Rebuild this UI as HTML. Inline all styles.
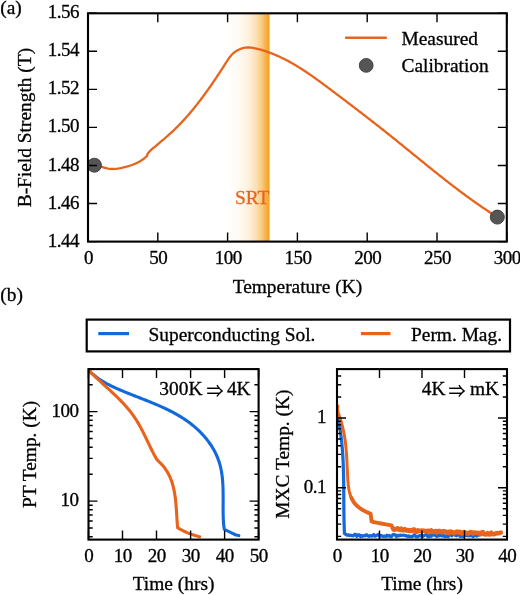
<!DOCTYPE html>
<html><head><meta charset="utf-8"><title>Figure</title>
<style>
html,body{margin:0;padding:0;background:#fff;}
svg{display:block;}
text{font-family:"Liberation Serif", "Times New Roman", serif;stroke:#000;stroke-width:0.3px;}
text.srt{stroke:#E8641C;}
text.cjk{font-family:"Noto Sans CJK JP", sans-serif;stroke-width:0.1px;}
</style></head>
<body>
<svg width="520" height="595" viewBox="0 0 520 595">
<rect width="520" height="595" fill="#fff"/>
<defs><linearGradient id="srt" x1="0" x2="1" y1="0" y2="0"><stop offset="0" stop-color="#F6A01F" stop-opacity="0"/><stop offset="0.28" stop-color="#F6A01F" stop-opacity="0.06"/><stop offset="0.52" stop-color="#F6A01F" stop-opacity="0.17"/><stop offset="0.69" stop-color="#F6A01F" stop-opacity="0.35"/><stop offset="0.81" stop-color="#F6A01F" stop-opacity="0.56"/><stop offset="0.91" stop-color="#F6A01F" stop-opacity="0.82"/><stop offset="1.0" stop-color="#F6A01F" stop-opacity="1.0"/></linearGradient></defs>
<rect x="228.5" y="13.3" width="41.1" height="228.3" fill="url(#srt)"/>
<text x="234.92" y="203.80" text-anchor="start" font-size="19.4" fill="#E8641C" class="srt">SRT</text>
<path d="M94.00,165.60L95.55,165.61L97.10,165.76L98.65,166.04L100.20,166.41L101.76,166.85L103.32,167.32L104.89,167.79L106.45,168.22L108.01,168.56L109.57,168.79L111.12,168.93L112.68,168.99L114.22,168.96L115.77,168.85L117.31,168.68L118.85,168.45L120.39,168.17L121.93,167.85L123.46,167.49L125.00,167.10L126.53,166.68L128.06,166.24L129.58,165.78L131.09,165.27L132.59,164.73L134.06,164.16L135.52,163.54L136.95,162.88L138.36,162.17L139.74,161.40L141.08,160.59L142.39,159.72L143.66,158.78L144.88,157.79L146.06,156.73L147.20,155.60L147.20,155.60L147.32,154.30L147.93,153.39L148.59,152.54L149.30,151.72L150.06,150.93L150.85,150.17L151.67,149.43L152.51,148.71L153.37,147.99L154.24,147.28L155.11,146.56L155.97,145.84L156.84,145.12L157.71,144.40L158.58,143.67L159.45,142.94L160.32,142.21L161.19,141.48L162.06,140.74L162.93,140.00L163.80,139.25L164.66,138.50L165.52,137.75L166.39,136.99L167.24,136.24L168.10,135.47L168.95,134.71L169.80,133.94L170.65,133.16L171.49,132.39L172.33,131.60L173.17,130.82L174.00,130.03L174.83,129.23L175.65,128.44L176.47,127.63L177.28,126.83L178.08,126.02L178.89,125.20L179.68,124.39L180.48,123.56L181.26,122.74L182.05,121.91L182.83,121.07L183.60,120.24L184.37,119.39L185.14,118.55L185.90,117.70L186.66,116.85L187.41,116.00L188.16,115.14L188.91,114.28L189.65,113.41L190.38,112.54L191.12,111.67L191.85,110.80L192.57,109.92L193.30,109.04L194.02,108.16L194.73,107.28L195.44,106.39L196.15,105.50L196.86,104.60L197.56,103.71L198.26,102.81L198.95,101.91L199.65,101.01L200.34,100.10L201.02,99.19L201.71,98.28L202.39,97.37L203.07,96.46L203.74,95.54L204.41,94.63L205.09,93.71L205.75,92.79L206.42,91.86L207.08,90.94L207.74,90.01L208.40,89.08L209.06,88.15L209.71,87.22L210.36,86.29L211.01,85.36L211.66,84.42L212.31,83.49L212.95,82.55L213.59,81.61L214.23,80.67L214.87,79.73L215.51,78.78L216.15,77.84L216.78,76.89L217.41,75.94L218.04,74.99L218.67,74.04L219.30,73.08L219.93,72.13L220.56,71.17L221.18,70.21L221.80,69.25L222.43,68.29L223.05,67.32L223.67,66.36L224.29,65.39L224.91,64.42L225.53,63.45L226.14,62.47L226.76,61.50L227.39,60.53L228.02,59.57L228.67,58.62L229.33,57.69L230.02,56.78L230.74,55.90L231.49,55.05L232.27,54.24L233.09,53.47L233.94,52.73L234.82,52.04L235.73,51.39L236.67,50.78L237.64,50.22L238.62,49.71L239.63,49.24L240.66,48.83L241.71,48.47L242.77,48.16L243.85,47.91L244.94,47.71L246.04,47.57L247.14,47.49L248.26,47.47L249.38,47.49L250.51,47.57L251.64,47.68L252.78,47.84L253.92,48.03L255.06,48.26L256.19,48.51L257.33,48.78L258.46,49.07L259.59,49.38L260.71,49.70L261.83,50.02L262.94,50.36L264.05,50.71L265.15,51.07L266.25,51.44L267.34,51.81L268.42,52.20L269.50,52.59L270.58,53.00L271.65,53.41L272.72,53.83L273.78,54.26L274.83,54.70L275.89,55.14L276.93,55.60L277.98,56.06L279.02,56.53L280.05,57.01L281.08,57.49L282.11,57.99L283.13,58.49L284.15,58.99L285.16,59.51L286.18,60.03L287.18,60.56L288.19,61.09L289.19,61.63L290.18,62.18L291.17,62.73L292.16,63.29L293.15,63.85L294.13,64.42L295.11,65.00L296.09,65.58L297.06,66.17L298.03,66.76L299.00,67.36L299.96,67.96L300.93,68.57L301.89,69.18L302.84,69.80L303.80,70.42L304.75,71.04L305.70,71.67L306.65,72.30L307.59,72.94L308.53,73.58L309.47,74.22L310.41,74.87L311.35,75.52L312.28,76.17L313.22,76.83L314.15,77.49L315.08,78.15L316.01,78.82L316.93,79.48L317.86,80.15L318.78,80.82L319.71,81.50L320.63,82.17L321.55,82.85L322.47,83.53L323.39,84.21L324.30,84.89L325.22,85.57L326.14,86.26L327.05,86.94L327.97,87.63L328.88,88.31L329.80,89.00L330.71,89.68L331.62,90.37L332.54,91.06L333.45,91.75L334.36,92.43L335.27,93.12L336.19,93.81L337.10,94.50L338.01,95.18L338.92,95.87L339.83,96.56L340.74,97.25L341.65,97.94L342.56,98.63L343.47,99.32L344.38,100.01L345.29,100.70L346.20,101.39L347.11,102.08L348.01,102.77L348.92,103.46L349.83,104.15L350.74,104.84L351.64,105.53L352.55,106.22L353.46,106.91L354.36,107.61L355.27,108.30L356.17,108.99L357.08,109.69L357.98,110.38L358.89,111.07L359.79,111.77L360.70,112.46L361.60,113.16L362.50,113.85L363.41,114.55L364.31,115.25L365.21,115.94L366.11,116.64L367.01,117.34L367.91,118.04L368.81,118.73L369.71,119.43L370.61,120.13L371.51,120.83L372.41,121.53L373.31,122.23L374.21,122.93L375.11,123.64L376.00,124.34L376.90,125.04L377.80,125.75L378.69,126.45L379.59,127.15L380.48,127.86L381.38,128.56L382.27,129.27L383.17,129.98L384.06,130.68L384.95,131.39L385.85,132.10L386.74,132.81L387.63,133.52L388.52,134.23L389.41,134.94L390.30,135.65L391.19,136.36L392.08,137.08L392.97,137.79L393.86,138.50L394.75,139.22L395.64,139.93L396.53,140.65L397.41,141.37L398.30,142.08L399.19,142.80L400.08,143.52L400.96,144.23L401.85,144.95L402.73,145.67L403.62,146.39L404.50,147.11L405.39,147.83L406.28,148.55L407.16,149.27L408.05,149.99L408.93,150.71L409.81,151.43L410.70,152.15L411.58,152.87L412.47,153.59L413.35,154.31L414.24,155.03L415.12,155.75L416.01,156.47L416.89,157.19L417.78,157.91L418.66,158.63L419.55,159.35L420.43,160.07L421.32,160.79L422.21,161.51L423.09,162.23L423.98,162.95L424.86,163.67L425.75,164.38L426.64,165.10L427.53,165.82L428.41,166.54L429.30,167.25L430.19,167.97L431.08,168.68L431.97,169.40L432.86,170.11L433.75,170.83L434.64,171.54L435.53,172.25L436.42,172.96L437.32,173.67L438.21,174.38L439.10,175.09L440.00,175.80L440.89,176.51L441.79,177.22L442.68,177.92L443.58,178.63L444.48,179.33L445.37,180.04L446.27,180.74L447.17,181.44L448.07,182.14L448.97,182.84L449.87,183.54L450.78,184.24L451.68,184.93L452.59,185.63L453.49,186.32L454.40,187.01L455.30,187.70L456.21,188.39L457.12,189.08L458.03,189.77L458.94,190.46L459.85,191.14L460.77,191.83L461.68,192.51L462.59,193.19L463.51,193.87L464.43,194.54L465.35,195.22L466.27,195.90L467.19,196.57L468.11,197.24L469.03,197.91L469.96,198.58L470.88,199.24L471.81,199.91L472.74,200.57L473.66,201.23L474.60,201.89L475.53,202.55L476.46,203.21L477.40,203.86L478.33,204.51L479.27,205.16L480.21,205.81L481.15,206.46L482.09,207.10L483.03,207.74L483.98,208.38L484.93,209.02L485.87,209.66L486.82,210.29L487.77,210.92L488.73,211.55L489.68,212.18L490.64,212.80L491.59,213.43L492.55,214.05L493.52,214.66L494.48,215.28L495.44,215.89L496.41,216.50L497.30,217.20" fill="none" stroke="#E8641C" stroke-width="2.3" stroke-linejoin="round" stroke-linecap="round"/>
<clipPath id="clipA"><rect x="88.0" y="13.3" width="418.8" height="228.3"/></clipPath>
<circle clip-path="url(#clipA)" cx="94.4" cy="165.2" r="7.0" fill="#555555" stroke="#3c3c3c" stroke-width="0.9"/>
<circle cx="497.3" cy="217.1" r="7.0" fill="#555555" stroke="#3c3c3c" stroke-width="0.9"/>
<text x="84.05" y="263.70" font-size="19.0" letter-spacing="-0.5">0</text>
<text x="149.35" y="263.70" font-size="19.0" letter-spacing="-0.5">50</text>
<text x="214.65" y="263.70" font-size="19.0" letter-spacing="-0.5">100</text>
<text x="284.45" y="263.70" font-size="19.0" letter-spacing="-0.5">150</text>
<text x="354.25" y="263.70" font-size="19.0" letter-spacing="-0.5">200</text>
<text x="424.05" y="263.70" font-size="19.0" letter-spacing="-0.5">250</text>
<text x="493.85" y="263.70" font-size="19.0" letter-spacing="-0.5">300</text>
<text x="47.65" y="246.60" font-size="19.0" letter-spacing="-0.5">1.44</text>
<text x="47.65" y="208.55" font-size="19.0" letter-spacing="-0.5">1.46</text>
<text x="47.65" y="170.50" font-size="19.0" letter-spacing="-0.5">1.48</text>
<text x="47.65" y="132.45" font-size="19.0" letter-spacing="-0.5">1.50</text>
<text x="47.65" y="94.40" font-size="19.0" letter-spacing="-0.5">1.52</text>
<text x="47.65" y="56.35" font-size="19.0" letter-spacing="-0.5">1.54</text>
<text x="47.65" y="18.30" font-size="19.0" letter-spacing="-0.5">1.56</text>
<path d="M88.0,241.6v-9.0M88.0,13.3v9.0M157.8,241.6v-9.0M157.8,13.3v9.0M227.6,241.6v-9.0M227.6,13.3v9.0M297.4,241.6v-9.0M297.4,13.3v9.0M367.2,241.6v-9.0M367.2,13.3v9.0M437.0,241.6v-9.0M437.0,13.3v9.0M506.8,241.6v-9.0M506.8,13.3v9.0M88.0,241.6h9.0M506.8,241.6h-9.0M88.0,203.5h9.0M506.8,203.5h-9.0M88.0,165.5h9.0M506.8,165.5h-9.0M88.0,127.4h9.0M506.8,127.4h-9.0M88.0,89.4h9.0M506.8,89.4h-9.0M88.0,51.3h9.0M506.8,51.3h-9.0M88.0,13.3h9.0M506.8,13.3h-9.0" stroke="#000" stroke-width="1.4" fill="none"/>
<rect x="88.0" y="13.3" width="418.8" height="228.3" fill="none" stroke="#000" stroke-width="2.1"/>
<text x="297.40" y="292.80" text-anchor="middle" font-size="19.4" fill="#000" >Temperature (K)</text>
<text transform="translate(31.3,127.6) rotate(-90)" text-anchor="middle" font-size="19.4">B-Field Strength (T)</text>
<line x1="345.1" y1="37.8" x2="386.8" y2="37.8" stroke="#E8641C" stroke-width="2.4"/>
<text x="401.50" y="44.50" text-anchor="start" font-size="19.4" fill="#000" >Measured</text>
<circle cx="366.2" cy="65.4" r="6.9" fill="#555555" stroke="#3c3c3c" stroke-width="0.9"/>
<text x="401.50" y="72.30" text-anchor="start" font-size="19.4" fill="#000" >Calibration</text>
<text x="0.30" y="13.50" text-anchor="start" font-size="19.4" fill="#000" >(a)</text>
<text x="0.30" y="301.00" text-anchor="start" font-size="19.4" fill="#000" >(b)</text>
<rect x="86.7" y="319.6" width="423.3" height="31.8" fill="none" stroke="#000" stroke-width="2.2"/>
<line x1="98.3" y1="333.6" x2="129" y2="333.6" stroke="#1169DC" stroke-width="3.2"/>
<text x="148.50" y="341.30" text-anchor="start" font-size="19.4" fill="#000" >Superconducting Sol.</text>
<line x1="360.9" y1="333.6" x2="390.5" y2="333.6" stroke="#E8641C" stroke-width="3.2"/>
<text x="411.00" y="341.30" text-anchor="start" font-size="19.4" fill="#000" >Perm. Mag.</text>
<path d="M89.60,370.60L90.43,372.08L91.55,373.11L92.69,374.10L93.84,375.07L95.01,376.00L96.19,376.91L97.39,377.80L98.61,378.65L99.84,379.48L101.08,380.29L102.33,381.08L103.60,381.84L104.88,382.59L106.17,383.31L107.47,384.02L108.78,384.71L110.11,385.38L111.44,386.04L112.78,386.69L114.13,387.32L115.49,387.95L116.85,388.56L118.22,389.16L119.60,389.76L120.99,390.35L122.38,390.93L123.77,391.51L125.17,392.09L126.58,392.66L127.99,393.22L129.40,393.79L130.82,394.35L132.24,394.91L133.66,395.47L135.08,396.03L136.51,396.58L137.94,397.14L139.37,397.70L140.80,398.26L142.22,398.82L143.65,399.38L145.08,399.94L146.51,400.51L147.94,401.08L149.37,401.65L150.79,402.23L152.21,402.81L153.63,403.40L155.05,403.99L156.46,404.59L157.87,405.20L159.28,405.81L160.68,406.43L162.07,407.06L163.46,407.69L164.85,408.34L166.23,408.99L167.60,409.66L168.97,410.33L170.33,411.01L171.68,411.71L173.03,412.42L174.36,413.13L175.69,413.87L177.01,414.61L178.32,415.37L179.62,416.14L180.91,416.92L182.19,417.72L183.46,418.54L184.72,419.37L185.97,420.22L187.20,421.08L188.42,421.96L189.63,422.86L190.83,423.78L192.02,424.71L193.18,425.66L194.34,426.63L195.48,427.61L196.60,428.61L197.71,429.62L198.80,430.65L199.87,431.70L200.92,432.76L201.96,433.84L202.97,434.94L203.97,436.05L204.94,437.17L205.90,438.32L206.83,439.47L207.75,440.64L208.63,441.83L209.50,443.03L210.34,444.25L211.16,445.48L211.96,446.73L212.73,447.98L213.47,449.26L214.19,450.55L214.88,451.85L215.54,453.17L216.17,454.50L216.78,455.84L217.36,457.20L217.91,458.57L218.42,459.95L218.91,461.35L219.37,462.76L219.79,464.18L220.19,465.62L220.55,467.07L220.88,468.53L221.18,470.00L221.45,471.48L221.70,472.98L221.92,474.48L222.12,475.99L222.30,477.50L222.45,479.03L222.59,480.56L222.70,482.10L222.80,483.64L222.88,485.19L222.95,486.74L223.01,488.30L223.05,489.85L223.08,491.41L223.11,492.98L223.12,494.54L223.13,496.10L223.13,497.66L223.13,499.22L223.13,500.78L223.12,502.34L223.11,503.89L223.11,505.44L223.10,506.99L223.10,508.53L223.11,510.06L223.12,511.59L223.14,513.11L223.16,514.63L223.20,516.14L223.25,517.63L223.31,519.12L223.39,520.60L223.48,522.07L223.59,523.52L223.71,524.96L223.86,526.40L224.02,527.81L224.30,529.30L224.30,529.30L231.00,532.60L236.00,535.00L238.80,535.60" fill="none" stroke="#1169DC" stroke-width="3.1" stroke-linejoin="round" stroke-linecap="round"/>
<path d="M89.60,370.60L90.35,371.98L91.42,373.04L92.50,374.11L93.59,375.16L94.69,376.21L95.79,377.26L96.90,378.31L98.01,379.35L99.13,380.38L100.25,381.42L101.37,382.45L102.50,383.48L103.63,384.51L104.76,385.54L105.88,386.57L107.01,387.61L108.14,388.64L109.26,389.67L110.38,390.71L111.50,391.75L112.62,392.79L113.73,393.84L114.83,394.88L115.93,395.94L117.02,397.00L118.10,398.06L119.18,399.14L120.24,400.21L121.30,401.30L122.35,402.39L123.38,403.49L124.40,404.60L125.41,405.72L126.41,406.85L127.40,407.99L128.36,409.14L129.32,410.30L130.26,411.47L131.18,412.65L132.08,413.85L132.97,415.06L133.83,416.28L134.68,417.52L135.51,418.77L136.32,420.04L137.11,421.31L137.89,422.61L138.65,423.91L139.39,425.22L140.12,426.54L140.84,427.87L141.55,429.21L142.25,430.56L142.94,431.92L143.62,433.27L144.30,434.64L144.97,436.01L145.63,437.38L146.30,438.76L146.96,440.13L147.62,441.51L148.28,442.89L148.94,444.27L149.60,445.65L150.27,447.03L150.94,448.40L151.62,449.77L152.30,451.13L152.99,452.49L153.69,453.85L154.41,455.20L155.13,456.54L155.86,457.87L156.61,459.19L157.70,460.30L157.70,460.30L158.66,461.43L159.87,462.55L161.02,463.70L162.12,464.87L163.16,466.06L164.15,467.29L165.08,468.53L165.96,469.80L166.80,471.09L167.58,472.40L168.32,473.72L169.02,475.07L169.67,476.44L170.28,477.82L170.85,479.22L171.38,480.64L171.88,482.07L172.34,483.52L172.76,484.98L173.16,486.45L173.52,487.93L173.86,489.42L174.17,490.93L174.45,492.44L174.71,493.96L174.95,495.49L175.17,497.03L175.37,498.57L175.55,500.11L175.71,501.66L175.86,503.22L176.00,504.77L176.13,506.33L176.25,507.89L176.36,509.45L176.46,511.01L176.56,512.56L176.66,514.12L176.75,515.67L176.84,517.21L176.94,518.76L177.04,520.29L177.14,521.82L177.26,523.34L177.37,524.86L177.50,526.36L177.70,527.90L177.70,527.90C179.43,528.77 184.45,531.62 188.10,533.10C191.75,534.58 197.68,536.18 199.60,536.80" fill="none" stroke="#E8641C" stroke-width="3.1" stroke-linejoin="round" stroke-linecap="round"/>
<text x="84.25" y="562.20" font-size="19.0" letter-spacing="-0.5">0</text>
<text x="113.77" y="562.20" font-size="19.0" letter-spacing="-0.5">10</text>
<text x="147.79" y="562.20" font-size="19.0" letter-spacing="-0.5">20</text>
<text x="181.81" y="562.20" font-size="19.0" letter-spacing="-0.5">30</text>
<text x="215.83" y="562.20" font-size="19.0" letter-spacing="-0.5">40</text>
<text x="249.85" y="562.20" font-size="19.0" letter-spacing="-0.5">50</text>
<text x="51.50" y="416.60" font-size="19.0" letter-spacing="-0.5">100</text>
<text x="60.50" y="506.10" font-size="19.0" letter-spacing="-0.5">10</text>
<path d="M88.5,539.6v-9.0M88.5,369.1v9.0M122.5,539.6v-9.0M122.5,369.1v9.0M156.5,539.6v-9.0M156.5,369.1v9.0M190.6,539.6v-9.0M190.6,369.1v9.0M224.6,539.6v-9.0M224.6,369.1v9.0M258.6,539.6v-9.0M258.6,369.1v9.0M88.5,536.7h4.2M258.6,536.7h-4.2M88.5,528.0h4.2M258.6,528.0h-4.2M88.5,521.0h4.2M258.6,521.0h-4.2M88.5,515.0h4.2M258.6,515.0h-4.2M88.5,509.8h4.2M258.6,509.8h-4.2M88.5,505.2h4.2M258.6,505.2h-4.2M88.5,501.1h9.0M258.6,501.1h-9.0M88.5,474.2h4.2M258.6,474.2h-4.2M88.5,458.4h4.2M258.6,458.4h-4.2M88.5,447.2h4.2M258.6,447.2h-4.2M88.5,438.5h4.2M258.6,438.5h-4.2M88.5,431.5h4.2M258.6,431.5h-4.2M88.5,425.5h4.2M258.6,425.5h-4.2M88.5,420.3h4.2M258.6,420.3h-4.2M88.5,415.7h4.2M258.6,415.7h-4.2M88.5,411.6h9.0M258.6,411.6h-9.0M88.5,384.7h4.2M258.6,384.7h-4.2M88.5,368.9h4.2M258.6,368.9h-4.2" stroke="#000" stroke-width="1.4" fill="none"/>
<rect x="88.5" y="369.1" width="170.1" height="170.5" fill="none" stroke="#000" stroke-width="2.1"/>
<text x="159.33" y="395.00" text-anchor="start" font-size="19.4" fill="#000" >300K</text>
<text x="206.62" y="397.40" font-size="17.0" class="cjk">⇒</text>
<text x="226.91" y="395.00" text-anchor="start" font-size="19.4" fill="#000" >4K</text>
<text x="173.55" y="590.40" text-anchor="middle" font-size="19.4" fill="#000" >Time (hrs)</text>
<text transform="translate(36.3,454.4) rotate(-90)" text-anchor="middle" font-size="19.4">PT Temp. (K)</text>
<path d="M337.60,416.50L337.94,417.98L338.25,419.48L338.55,420.97L338.84,422.47L339.12,423.96L339.39,425.46L339.65,426.96L339.90,428.46L340.13,429.97L340.36,431.47L340.58,432.98L340.79,434.48L340.98,435.99L341.17,437.50L341.35,439.01L341.52,440.52L341.69,442.03L341.84,443.54L341.99,445.05L342.13,446.57L342.26,448.08L342.38,449.60L342.50,451.11L342.60,452.63L342.71,454.15L342.80,455.67L342.89,457.19L342.98,458.71L343.05,460.23L343.13,461.75L343.19,463.27L343.26,464.80L343.31,466.32L343.37,467.84L343.41,469.37L343.46,470.89L343.50,472.42L343.53,473.94L343.57,475.47L343.60,476.99L343.62,478.52L343.65,480.05L343.67,481.57L343.69,483.10L343.70,484.63L343.72,486.15L343.73,487.68L343.74,489.21L343.75,490.74L343.76,492.26L343.77,493.79L343.78,495.32L343.78,496.84L343.79,498.37L343.80,499.90L343.81,501.42L343.82,502.95L343.82,504.48L343.83,506.00L343.85,507.53L343.86,509.05L343.87,510.58L343.89,512.10L343.91,513.63L343.93,515.15L343.96,516.67L343.98,518.19L344.01,519.72L344.05,521.24L344.08,522.76L344.13,524.28L344.17,525.80L344.22,527.32L344.27,528.83L344.33,530.35L344.40,531.87L344.40,533.40L344.40,533.40L347.00,535.30L348.50,534.87L349.70,535.61L350.90,535.19L352.10,535.75L353.30,535.80L354.50,534.46L355.70,534.33L356.90,536.31L358.10,534.92L359.30,534.86L360.50,536.69L361.70,535.43L362.90,536.31L364.10,535.44L365.30,535.83L366.50,534.66L367.70,535.82L368.90,536.38L370.10,535.56L371.30,536.08L372.50,535.91L373.70,534.45L374.90,536.12L376.10,535.72L377.30,535.02L378.50,534.37L379.70,536.38L380.90,535.43L382.10,536.03L383.30,536.41L384.50,536.01L385.70,536.51L386.90,535.25L388.10,536.22L389.30,535.37L390.50,536.55L391.70,536.41L392.90,534.53L394.10,534.63L395.30,534.82L396.50,536.62L397.70,535.35L398.90,535.80L400.10,535.02L401.30,535.52L402.50,535.23L403.70,535.14L404.90,535.70L406.10,535.70L407.30,536.47L408.50,535.94L409.70,536.53L410.90,536.36L412.10,536.68L413.30,535.91L414.50,534.69L415.70,536.37L416.90,536.62L418.10,536.47L419.30,535.67L420.50,536.01L421.70,534.81L422.90,536.30L424.10,535.68L425.30,534.98L426.50,534.45L427.70,536.35L428.90,536.68L430.10,534.51L431.30,536.22L432.50,535.29L433.70,534.66L434.90,535.01L436.10,536.15L437.30,536.39L438.50,534.41L439.70,535.77L440.90,534.41L442.10,536.02L443.30,535.09L444.50,536.41L445.70,536.65L446.90,535.51L448.10,536.70L449.30,535.04L450.50,534.48L451.70,535.74L452.90,534.38L454.10,534.77L455.30,535.28L456.50,535.77L457.70,534.67L458.90,534.40L460.10,536.38L461.30,535.05L462.50,536.60L463.70,536.45L464.90,535.21L466.10,535.40L467.30,535.55L468.50,535.85L469.70,535.73L470.90,535.64L472.10,535.79L473.30,536.56L474.50,535.52L475.70,535.33L476.90,536.03L478.10,534.87L479.30,535.02" fill="none" stroke="#1169DC" stroke-width="3.2" stroke-linejoin="round" stroke-linecap="round"/>
<path d="M337.90,406.00L337.58,407.61L337.59,409.13L337.77,410.60L338.08,412.06L338.48,413.49L338.94,414.92L339.43,416.35L339.92,417.78L340.40,419.24L340.86,420.70L341.30,422.17L341.72,423.65L342.12,425.14L342.50,426.62L342.87,428.12L343.21,429.61L343.53,431.10L343.83,432.59L344.11,434.09L344.38,435.58L344.63,437.07L344.86,438.57L345.07,440.06L345.27,441.56L345.46,443.06L345.63,444.56L345.80,446.06L345.95,447.56L346.08,449.07L346.21,450.58L346.33,452.09L346.45,453.60L346.55,455.11L346.65,456.63L346.74,458.15L346.83,459.68L346.91,461.20L346.99,462.73L347.06,464.26L347.14,465.80L347.21,467.34L347.28,468.89L347.35,470.43L347.43,471.99L347.51,473.54L347.58,475.10L347.67,476.67L347.76,478.24L347.85,479.81L347.96,481.38L348.09,482.95L348.24,484.50L348.42,486.05L348.63,487.59L348.88,489.11L349.16,490.61L349.49,492.09L349.87,493.54L350.30,494.97L350.78,496.36L351.33,497.72" fill="none" stroke="#E8641C" stroke-width="3.0" stroke-linejoin="round" stroke-linecap="round"/>
<path d="M351.33,497.72L351.95,499.05L352.64,500.33L353.40,501.58L354.24,502.78L355.17,503.93L356.18,505.02L357.28,506.07L358.45,507.06L359.69,508.01L360.99,508.90L362.32,509.74L363.69,510.53L365.08,511.27L366.48,511.97L367.88,512.61L369.26,513.21L370.60,513.80L370.60,513.80L371.60,521.40C372.23,521.57 373.82,522.05 375.40,522.40C376.98,522.75 378.43,523.02 381.10,523.50C383.77,523.98 389.68,525.00 391.40,525.30L393.00,528.60" fill="none" stroke="#E8641C" stroke-width="3.9" stroke-linejoin="round" stroke-linecap="round"/>
<path d="M393.00,528.60L394.00,529.82L395.20,529.02L396.40,529.29L397.60,528.31L398.80,529.41L400.00,529.98L401.20,528.81L402.40,530.19L403.60,530.29L404.80,529.10L406.00,530.42L407.20,530.13L408.40,530.66L409.60,530.01L410.80,530.86L412.00,531.00L413.20,529.49L414.40,529.64L415.60,531.06L416.80,531.76L418.00,530.26L419.20,530.78L420.40,531.15L421.60,530.61L422.80,530.78L424.00,530.73L425.20,530.92L426.40,531.47L427.60,530.86L428.80,531.08L430.00,532.00L431.20,530.41L432.40,531.65L433.60,532.06L434.80,531.17L436.00,531.03L437.20,532.36L438.40,531.16L439.60,531.10L440.80,531.69L442.00,532.32L443.20,531.05L444.40,531.58L445.60,531.66L446.80,532.81L448.00,531.98L449.20,532.95L450.40,531.49L451.60,531.90L452.80,532.64L454.00,533.21L455.20,532.30L456.40,531.84L457.60,531.65L458.80,532.59L460.00,531.88L461.20,533.27L462.40,533.38L463.60,531.98L464.80,532.23L466.00,533.43L467.20,533.10L468.40,533.50L469.60,532.53L470.80,532.09L472.00,532.49L473.20,533.63L474.40,532.52L475.60,532.72L476.80,532.91L478.00,532.96L479.20,532.98L480.40,534.13L481.60,532.47L482.80,532.16L484.00,534.25L485.20,534.13L486.40,534.39L487.60,533.20L488.80,534.36L490.00,534.33L491.20,532.80L492.40,533.97L493.60,534.20L494.80,533.84L496.00,533.54L497.20,533.06L498.40,533.20L499.60,532.97L500.80,532.64" fill="none" stroke="#E8641C" stroke-width="4.6" stroke-linejoin="round" stroke-linecap="round"/>
<text x="332.75" y="562.20" font-size="19.0" letter-spacing="-0.5">0</text>
<text x="370.75" y="562.20" font-size="19.0" letter-spacing="-0.5">10</text>
<text x="413.25" y="562.20" font-size="19.0" letter-spacing="-0.5">20</text>
<text x="455.75" y="562.20" font-size="19.0" letter-spacing="-0.5">30</text>
<text x="498.25" y="562.20" font-size="19.0" letter-spacing="-0.5">40</text>
<text x="317.00" y="423.00" font-size="19.0" letter-spacing="-0.5">1</text>
<text x="303.75" y="492.70" font-size="19.0" letter-spacing="-0.5">0.1</text>
<path d="M337.0,539.6v-9.0M337.0,369.1v9.0M379.5,539.6v-9.0M379.5,369.1v9.0M422.0,539.6v-9.0M422.0,369.1v9.0M464.5,539.6v-9.0M464.5,369.1v9.0M507.0,539.6v-9.0M507.0,369.1v9.0M337.0,536.4h4.2M507.0,536.4h-4.2M337.0,524.1h4.2M507.0,524.1h-4.2M337.0,515.4h4.2M507.0,515.4h-4.2M337.0,508.7h4.2M507.0,508.7h-4.2M337.0,503.2h4.2M507.0,503.2h-4.2M337.0,498.5h4.2M507.0,498.5h-4.2M337.0,494.5h4.2M507.0,494.5h-4.2M337.0,490.9h4.2M507.0,490.9h-4.2M337.0,487.7h9.0M507.0,487.7h-9.0M337.0,466.7h4.2M507.0,466.7h-4.2M337.0,454.4h4.2M507.0,454.4h-4.2M337.0,445.7h4.2M507.0,445.7h-4.2M337.0,439.0h4.2M507.0,439.0h-4.2M337.0,433.5h4.2M507.0,433.5h-4.2M337.0,428.8h4.2M507.0,428.8h-4.2M337.0,424.8h4.2M507.0,424.8h-4.2M337.0,421.2h4.2M507.0,421.2h-4.2M337.0,418.0h9.0M507.0,418.0h-9.0M337.0,397.0h4.2M507.0,397.0h-4.2M337.0,384.7h4.2M507.0,384.7h-4.2M337.0,376.0h4.2M507.0,376.0h-4.2M337.0,369.3h4.2M507.0,369.3h-4.2" stroke="#000" stroke-width="1.4" fill="none"/>
<rect x="337.0" y="369.1" width="170.0" height="170.5" fill="none" stroke="#000" stroke-width="2.1"/>
<text x="421.81" y="395.00" text-anchor="start" font-size="19.4" fill="#000" >4K</text>
<text x="448.52" y="397.40" font-size="17.0" class="cjk">⇒</text>
<text x="469.91" y="395.00" text-anchor="start" font-size="19.4" fill="#000" >mK</text>
<text x="422.00" y="590.40" text-anchor="middle" font-size="19.4" fill="#000" >Time (hrs)</text>
<text transform="translate(288.5,454.1) rotate(-90)" text-anchor="middle" font-size="19.4">MXC Temp. (K)</text>
</svg>
</body></html>
